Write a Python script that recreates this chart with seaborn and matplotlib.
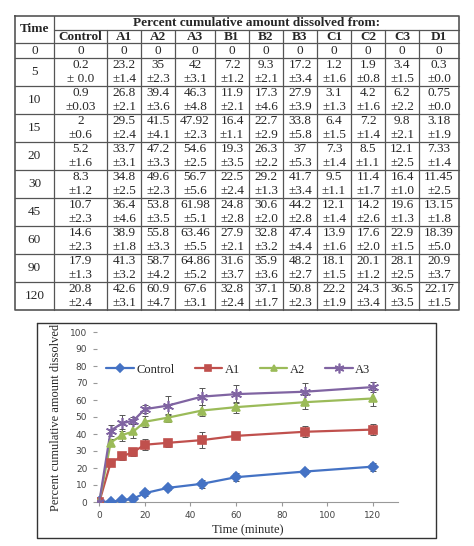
import numpy as np, pandas as pd
import matplotlib
matplotlib.use("Agg")
import matplotlib.pyplot as plt
import seaborn as sns

sns.set_style("white")
plt.rcParams['font.family'] = ['Liberation Serif', 'DejaVu Serif']

times = [0, 5, 10, 15, 20, 30, 45, 60, 90, 120]
formulas = ["Control", "A1", "A2", "A3", "B1", "B2", "B3", "C1", "C2", "C3", "D1"]
means = {
    "Control": ["0", "0.2", "0.9", "2", "5.2", "8.3", "10.7", "14.6", "17.9", "20.8"],
    "A1": ["0", "23.2", "26.8", "29.5", "33.7", "34.8", "36.4", "38.9", "41.3", "42.6"],
    "A2": ["0", "35", "39.4", "41.5", "47.2", "49.6", "53.8", "55.8", "58.7", "60.9"],
    "A3": ["0", "42", "46.3", "47.92", "54.6", "56.7", "61.98", "63.46", "64.86", "67.6"],
    "B1": ["0", "7.2", "11.9", "16.4", "19.3", "22.5", "24.8", "27.9", "31.6", "32.8"],
    "B2": ["0", "9.3", "17.3", "22.7", "26.3", "29.2", "30.6", "32.8", "35.9", "37.1"],
    "B3": ["0", "17.2", "27.9", "33.8", "37", "41.7", "44.2", "47.4", "48.2", "50.8"],
    "C1": ["0", "1.2", "3.1", "6.4", "7.3", "9.5", "12.1", "13.9", "18.1", "22.2"],
    "C2": ["0", "1.9", "4.2", "7.2", "8.5", "11.4", "14.2", "17.6", "20.1", "24.3"],
    "C3": ["0", "3.4", "6.2", "9.8", "12.1", "16.4", "19.6", "22.9", "28.1", "36.5"],
    "D1": ["0", "0.3", "0.75", "3.18", "7.33", "11.45", "13.15", "18.39", "20.9", "22.17"],
}
sds = {
    "Control": ["", "± 0.0", "±0.03", "±0.6", "±1.6", "±1.2", "±2.3", "±2.3", "±1.3", "±2.4"],
    "A1": ["", "±1.4", "±2.1", "±2.4", "±3.1", "±2.5", "±4.6", "±1.8", "±3.2", "±3.1"],
    "A2": ["", "±2.3", "±3.6", "±4.1", "±3.3", "±2.3", "±3.5", "±3.3", "±4.2", "±4.7"],
    "A3": ["", "±3.1", "±4.8", "±2.3", "±2.5", "±5.6", "±5.1", "±5.5", "±5.2", "±3.1"],
    "B1": ["", "±1.2", "±2.1", "±1.1", "±3.5", "±2.4", "±2.8", "±2.1", "±3.7", "±2.4"],
    "B2": ["", "±2.1", "±4.6", "±2.9", "±2.2", "±1.3", "±2.0", "±3.2", "±3.6", "±1.7"],
    "B3": ["", "±3.4", "±3.9", "±5.8", "±5.3", "±3.4", "±2.8", "±4.4", "±2.7", "±2.3"],
    "C1": ["", "±1.6", "±1.3", "±1.5", "±1.4", "±1.1", "±1.4", "±1.6", "±1.5", "±1.9"],
    "C2": ["", "±0.8", "±1.6", "±1.4", "±1.1", "±1.7", "±2.6", "±2.0", "±1.2", "±3.4"],
    "C3": ["", "±1.5", "±2.2", "±2.1", "±2.5", "±1.0", "±1.3", "±1.5", "±2.5", "±3.5"],
    "D1": ["", "±0.0", "±0.0", "±1.9", "±1.4", "±2.5", "±1.8", "±5.0", "±3.7", "±1.5"],
}
plotted = ["Control", "A1", "A2", "A3"]
colors = {"Control": "#4472C4", "A1": "#C0504D", "A2": "#9BBB59", "A3": "#8064A2"}
markers = {"Control": "D", "A1": "s", "A2": "^", "A3": (6, 2, 0)}
msizes = {"Control": 5, "A1": 6, "A2": 6, "A3": 8}

fig = plt.figure(figsize=(4.74, 5.46), dpi=100)

# overlay in pixel coordinates
bg = fig.add_axes([0, 0, 1, 1])
bg.set_xlim(0, 474); bg.set_ylim(546, 0); bg.axis("off")

colx = [15, 54, 107, 141, 175, 215, 249, 283, 317, 351, 385, 419, 459]
rowy = [16, 30, 43, 58] + [58 + 28.0 * i for i in range(1, 10)]
lc = "#555555"
# outer
bg.plot([colx[0], colx[-1], colx[-1], colx[0], colx[0]], [rowy[0], rowy[0], rowy[-1], rowy[-1], rowy[0]], color=lc, lw=1.2)
for x in colx[1:-1]:
    y0 = rowy[1] if x != colx[1] else rowy[0]
    bg.plot([x, x], [y0, rowy[-1]], color=lc, lw=0.9)
bg.plot([colx[1], colx[-1]], [rowy[1], rowy[1]], color=lc, lw=0.9)
for y in rowy[2:-1]:
    bg.plot([colx[0], colx[-1]], [y, y], color=lc, lw=0.9)
fs = 9.5
bg.text((colx[0] + colx[1]) / 2, (rowy[0] + rowy[2]) / 2, "Time", ha="center", va="center", fontsize=fs, fontweight="bold")
bg.text((colx[1] + colx[-1]) / 2, (rowy[0] + rowy[1]) / 2, "Percent cumulative amount dissolved from:", ha="center", va="center", fontsize=fs, fontweight="bold")
for j, f in enumerate(formulas):
    cx = (colx[j + 1] + colx[j + 2]) / 2
    bg.text(cx, (rowy[1] + rowy[2]) / 2, f, ha="center", va="center", fontsize=fs, fontweight="bold")
for i, t in enumerate(times):
    ytop, ybot = rowy[3 + i - 1] if i > 0 else rowy[2], rowy[3 + i]
    ym = (ytop + ybot) / 2
    bg.text((colx[0] + colx[1]) / 2, ym, str(t), ha="center", va="center", fontsize=fs)
    for j, f in enumerate(formulas):
        cx = (colx[j + 1] + colx[j + 2]) / 2
        if i == 0:
            bg.text(cx, ym, means[f][i], ha="center", va="center", fontsize=fs)
        else:
            bg.text(cx, ytop + 7.5, means[f][i], ha="center", va="center", fontsize=fs)
            bg.text(cx, ytop + 20.5, sds[f][i], ha="center", va="center", fontsize=fs)

# chart border
bg.plot([37, 436, 436, 37, 37], [323, 323, 538, 538, 323], color="#333333", lw=1.0)

# chart
ax = fig.add_axes([97 / 474, 1 - 502 / 546, 301 / 474, 170 / 546])
ax.patch.set_alpha(0)
rows = []
for f in plotted:
    for t, m, s in zip(times, means[f], sds[f]):
        rows.append({"Time": t, "Value": float(m), "SD": float(s.replace("±", "").strip() or 0), "Formula": f})
df = pd.DataFrame(rows)
for f in plotted:
    d = df[df.Formula == f]
    ax.errorbar(d.Time, d.Value, yerr=d.SD, fmt="none", ecolor="#555555", elinewidth=0.7, capsize=2.5, capthick=0.7, zorder=1)
sns.lineplot(data=df, x="Time", y="Value", hue="Formula", palette=colors, ax=ax, legend=False, lw=1.6, zorder=2)
for f in plotted:
    d = df[df.Formula == f]
    ax.plot(d.Time, d.Value, ls="none", marker=markers[f], ms=msizes[f], color=colors[f],
            mec=colors[f], mew=1.2, zorder=3)
from matplotlib.lines import Line2D
handles = [Line2D([0], [0], color=colors[f], lw=1.6, marker=markers[f], ms=msizes[f] - 1, mew=1.2) for f in plotted]
ax.legend(handles, plotted, loc="upper center", bbox_to_anchor=(0.47, 0.88), ncol=4, frameon=False,
          fontsize=9, handlelength=2.2, columnspacing=1.6, handletextpad=0.2)
ax.set_xlim(-1, 131)
ax.set_ylim(0, 100)
ax.set_xticks([0, 20, 40, 60, 80, 100, 120])
ax.set_yticks(range(0, 101, 10))
for s in ["top", "right", "left"]:
    ax.spines[s].set_visible(False)
ax.spines["bottom"].set_color("#999999")
ax.tick_params(axis="y", left=True, length=3, color="#999999", labelsize=6.5, pad=4)
ax.tick_params(axis="x", bottom=True, length=3, color="#999999", labelsize=6.5)
for lab in ax.get_xticklabels() + ax.get_yticklabels():
    lab.set_family("DejaVu Sans"); lab.set_color("#444444")
ax.set_xlabel("Time (minute)", fontsize=9, labelpad=3)
ax.set_ylabel("Percent cumulative amount dissolved", fontsize=9, labelpad=6)

fig.savefig("out.png", dpi=100, facecolor="white")
